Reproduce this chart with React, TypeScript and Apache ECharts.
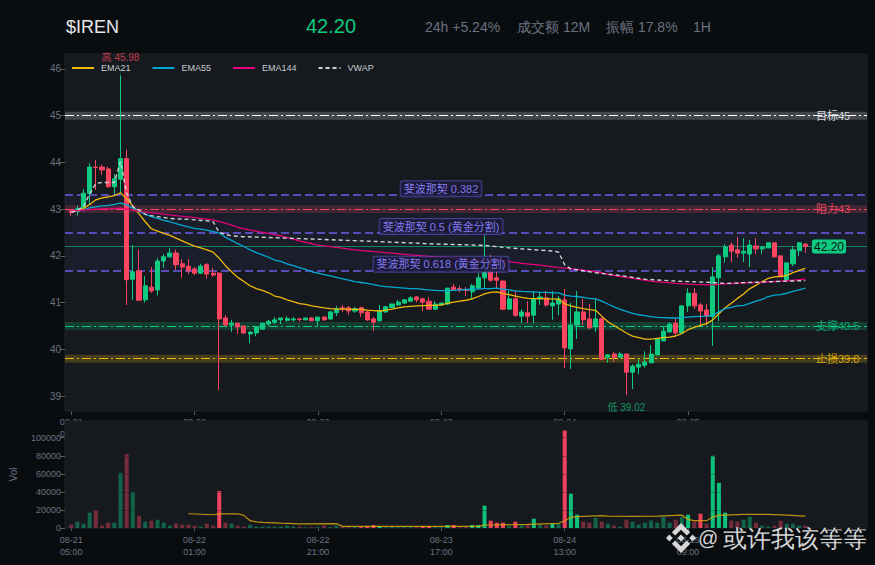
import React, { useEffect, useRef } from "react";
import * as echarts from "echarts";

const FONT = '"Liberation Sans", "Noto Sans CJK SC", sans-serif';
const GREEN = "#0ecb81";
const RED = "#fb4560";
const AMBER = "#f0b90b";
const FIB = "#6f5be8";
const AXIS_TEXT = "#6b7280";

const tickLabels = ["08-21\n05:00", "08-22\n01:00", "08-22\n21:00", "08-23\n17:00", "08-24\n13:00", "08-25\n09:00"];

const opens = [42.97,42.95,43.02,43.34,43.90,43.90,43.86,43.48,43.64,44.08,41.50,41.68,41.06,41.33,41.27,41.89,41.98,42.06,41.83,41.78,41.72,41.63,41.81,41.63,41.63,40.67,40.52,40.56,40.50,40.33,40.35,40.43,40.54,40.58,40.63,40.62,40.63,40.65,40.63,40.67,40.61,40.69,40.65,40.78,40.89,40.89,40.82,40.89,40.80,40.65,40.61,40.80,40.89,40.95,40.99,41.03,41.12,41.08,41.03,40.86,40.95,40.97,41.33,41.30,41.28,41.23,41.31,41.53,41.65,41.53,41.46,40.86,41.08,40.71,40.78,40.73,41.08,41.10,40.93,40.97,41.06,40.01,40.52,40.80,40.65,40.48,40.65,39.83,39.90,39.83,39.90,39.51,39.62,39.66,39.71,39.88,40.18,40.37,40.56,40.35,40.93,41.20,40.95,40.84,40.70,41.53,41.98,42.23,42.13,42.06,42.04,42.21,42.15,42.17,42.28,42.00,41.48,41.83,42.11,42.25];
const closes = [42.93,43.01,43.34,43.90,43.89,43.84,43.48,43.65,44.08,41.49,41.66,41.05,41.36,41.25,41.89,41.98,42.06,41.81,41.76,41.68,41.63,41.78,41.61,41.59,40.65,40.52,40.56,40.48,40.35,40.37,40.48,40.56,40.60,40.63,40.67,40.66,40.65,40.64,40.67,40.61,40.69,40.63,40.80,40.87,40.86,40.82,40.87,40.78,40.63,40.58,40.82,40.91,40.97,41.01,41.06,41.10,41.06,41.01,40.86,40.97,40.99,41.31,41.28,41.27,41.26,41.36,41.53,41.64,41.48,41.48,40.86,41.08,40.73,40.80,40.71,41.08,41.12,40.95,40.99,41.08,40.03,40.52,40.80,40.63,40.46,40.65,39.79,39.88,39.83,39.90,39.51,39.64,39.68,39.73,39.90,40.22,40.39,40.54,40.35,40.93,41.20,40.93,40.82,40.71,41.55,42.00,42.19,42.10,42.06,42.10,42.23,42.15,42.19,42.28,41.98,41.55,41.85,42.13,42.28,42.20];
const lows = [42.86,42.86,42.98,43.09,43.41,43.73,43.46,43.32,43.34,40.95,41.06,41.04,41.00,41.21,41.15,41.74,41.96,41.70,41.53,41.61,41.59,41.61,41.51,41.55,39.13,40.50,40.37,40.33,40.33,40.13,40.28,40.43,40.50,40.54,40.54,40.59,40.59,40.59,40.63,40.61,40.48,40.61,40.63,40.71,40.80,40.74,40.78,40.69,40.61,40.39,40.59,40.78,40.89,40.93,40.97,41.03,41.01,40.82,40.84,40.84,40.93,40.95,41.25,41.22,41.14,41.07,41.29,41.31,41.44,41.31,40.84,40.84,40.69,40.56,40.56,40.56,40.95,40.91,40.63,40.73,39.60,39.58,40.22,40.52,40.43,40.37,39.77,39.71,39.73,39.81,39.02,39.15,39.47,39.60,39.71,39.88,40.18,40.37,40.28,40.33,40.80,40.86,40.50,40.52,40.07,40.60,41.85,41.87,41.96,41.87,41.76,42.04,42.04,42.17,41.96,41.55,41.48,41.78,42.00,42.06];
const highs = [42.98,43.07,43.43,43.98,44.05,43.95,43.91,43.75,45.98,44.27,42.23,42.13,41.57,41.76,41.95,42.04,42.17,42.13,41.93,41.93,41.76,41.83,41.85,41.74,41.65,40.73,40.63,40.56,40.50,40.39,40.48,40.56,40.63,40.69,40.67,40.71,40.69,40.67,40.67,40.69,40.69,40.71,40.82,40.93,40.95,40.93,40.91,40.91,40.82,40.69,40.95,40.93,40.97,41.06,41.06,41.14,41.14,41.10,41.12,41.03,41.00,41.31,41.40,41.36,41.33,41.40,41.63,42.44,42.02,41.68,41.48,41.25,41.25,40.86,41.03,41.23,41.23,41.25,41.25,41.14,41.29,41.00,41.25,41.08,40.97,41.10,40.69,39.90,39.94,39.94,39.90,39.68,39.79,39.96,40.09,40.24,40.48,40.58,40.65,40.93,41.31,41.31,40.99,40.97,41.76,42.04,42.25,42.28,42.40,42.38,42.34,42.38,42.21,42.28,42.28,42.00,41.85,42.21,42.30,42.28];
const volumes = [3700,7000,4800,17000,20000,2600,5900,5900,61000,82000,40000,13600,7000,8100,9200,5900,2600,4800,3700,3700,2600,1500,4800,2600,41000,5900,4800,2600,1500,3700,1500,1500,1500,1500,1500,2600,1500,1500,700,700,800,2600,1000,2600,1000,1000,1000,1000,2200,3300,2200,1000,1000,1000,1000,1000,1000,2200,2200,1000,1000,3300,3300,1000,1000,3300,3300,24700,8100,5900,5900,2600,7000,3700,3700,10300,3700,2600,4800,4800,108000,38000,14700,7000,5900,11400,7000,4800,2600,1500,9200,7000,3700,5900,8100,5900,12500,5900,9200,12500,14700,7000,15800,4800,80000,50000,17000,8100,7000,9200,12500,5900,2600,1500,2600,8100,4800,4800,2600,2600];
const brightVolumes = [25,48,49,50,51,58,59,62,63,66,67,68,69,70,71,73,76,79,81,82,83,101,103,105,106,107];

const volumeMA = [[20,15800],[24,14700],[25,15600],[28,15800],[29,14000],[30,8100],[31,6800],[32,6300],[35,5400],[38,4600],[44,4800],[45,1800],[67,1800],[68,3300],[70,3400],[75,4000],[80,5200],[81,8000],[82,11800],[83,12500],[87,13600],[88,13200],[92,12900],[96,13200],[100,14350],[101,9200],[102,8100],[104,8100],[105,12100],[106,14000],[110,15100],[114,15100],[117,14300],[120,13200]];

const ema21 = [[1,42.95],[2,42.97],[3,43.02],[4,43.10],[5,43.20],[6,43.24],[7,43.26],[8,43.29],[9,43.35],[10,43.22],[11,43.07],[12,42.90],[13,42.73],[14,42.58],[15,42.53],[16,42.48],[17,42.44],[18,42.38],[19,42.32],[20,42.26],[21,42.21],[22,42.17],[23,42.13],[24,42.08],[25,41.95],[26,41.79],[27,41.66],[28,41.54],[29,41.45],[30,41.36],[31,41.30],[32,41.26],[33,41.21],[34,41.14],[35,41.11],[36,41.06],[37,41.02],[38,40.98],[39,40.96],[40,40.93],[41,40.91],[42,40.885],[43,40.87],[44,40.86],[45,40.86],[46,40.86],[47,40.855],[48,40.855],[49,40.84],[50,40.83],[51,40.82],[52,40.84],[53,40.86],[54,40.885],[55,40.91],[56,40.92],[57,40.93],[58,40.935],[59,40.94],[60,40.94],[61,40.95],[62,40.985],[63,41.01],[64,41.03],[65,41.05],[66,41.08],[67,41.13],[68,41.185],[69,41.22],[70,41.23],[71,41.19],[72,41.17],[73,41.14],[74,41.11],[75,41.09],[76,41.085],[77,41.085],[78,41.08],[79,41.08],[80,41.07],[81,40.97],[82,40.93],[83,40.90],[84,40.87],[85,40.85],[86,40.835],[87,40.71],[88,40.59],[89,40.51],[90,40.43],[91,40.35],[92,40.28],[93,40.25],[94,40.22],[95,40.22],[96,40.235],[97,40.25],[98,40.26],[99,40.285],[100,40.34],[101,40.42],[102,40.47],[103,40.51],[104,40.55],[105,40.63],[106,40.76],[107,40.89],[108,40.985],[109,41.09],[110,41.185],[111,41.30],[112,41.37],[113,41.45],[114,41.52],[115,41.55],[116,41.56],[117,41.58],[118,41.64],[119,41.69],[120,41.73]];
const ema55 = [[1,42.96],[2,42.97],[3,42.98],[4,43.03],[5,43.05],[6,43.07],[7,43.08],[8,43.10],[9,43.13],[10,43.09],[11,43.02],[12,42.95],[13,42.89],[14,42.84],[15,42.80],[16,42.76],[17,42.73],[18,42.69],[19,42.65],[20,42.62],[21,42.59],[22,42.57],[23,42.55],[24,42.52],[25,42.49],[26,42.40],[27,42.33],[28,42.26],[29,42.20],[30,42.13],[31,42.07],[32,42.02],[33,41.97],[34,41.91],[35,41.88],[36,41.83],[37,41.79],[38,41.75],[39,41.71],[40,41.66],[41,41.63],[42,41.60],[43,41.57],[44,41.54],[45,41.51],[46,41.48],[47,41.45],[48,41.43],[49,41.41],[50,41.385],[51,41.36],[52,41.34],[53,41.33],[54,41.32],[55,41.31],[56,41.30],[57,41.30],[58,41.285],[59,41.27],[60,41.26],[61,41.255],[62,41.255],[63,41.26],[64,41.27],[65,41.28],[66,41.285],[67,41.29],[68,41.30],[69,41.30],[70,41.31],[71,41.29],[72,41.27],[73,41.25],[74,41.24],[75,41.235],[76,41.23],[77,41.22],[78,41.22],[79,41.21],[80,41.21],[81,41.16],[82,41.14],[83,41.13],[84,41.11],[85,41.09],[86,41.08],[87,41.03],[88,40.97],[89,40.91],[90,40.855],[91,40.81],[92,40.77],[93,40.74],[94,40.72],[95,40.70],[96,40.685],[97,40.68],[98,40.67],[99,40.67],[100,40.68],[101,40.69],[102,40.70],[103,40.705],[104,40.71],[105,40.73],[106,40.80],[107,40.87],[108,40.90],[109,40.93],[110,40.94],[111,40.985],[112,41.03],[113,41.07],[114,41.13],[115,41.16],[116,41.17],[117,41.20],[118,41.24],[119,41.27],[120,41.31]];
const ema144 = [[1,42.96],[5,43.00],[9,43.02],[10,43.00],[11,42.98],[12,42.95],[15,42.91],[18,42.86],[21,42.82],[24,42.77],[26,42.70],[28,42.61],[30,42.55],[33,42.48],[35,42.43],[38,42.32],[41,42.23],[44,42.18],[47,42.13],[50,42.09],[53,42.06],[56,42.02],[59,41.99],[62,41.96],[65,41.93],[68,41.91],[71,41.90],[74,41.84],[77,41.80],[80,41.75],[83,41.71],[86,41.66],[89,41.58],[92,41.52],[95,41.46],[99,41.41],[102,41.39],[105,41.38],[107,41.40],[110,41.42],[113,41.435],[116,41.46],[120,41.50]];
const vwap = [[1,42.93],[2,42.98],[3,43.05],[4,43.33],[5,43.55],[6,43.57],[8,43.57],[9,44.02],[10,43.34],[11,43.05],[12,42.98],[13,42.89],[14,42.86],[15,42.84],[16,42.82],[17,42.80],[20,42.78],[21,42.77],[23,42.75],[24,42.73],[25,42.50],[26,42.46],[27,42.43],[29,42.41],[34,42.39],[40,42.36],[50,42.31],[60,42.255],[68,42.225],[72,42.17],[76,42.13],[79,42.105],[80,42.08],[81,41.81],[82,41.72],[84,41.68],[86,41.64],[90,41.58],[94,41.50],[99,41.46],[105,41.43],[107,41.41],[112,41.435],[116,41.455],[120,41.47]];

const levelValues = { target: 45, resistance: 43, support: 40.5, stop: 39.8, last: 42.2 };
const fibValues = { f382: 43.31, f5: 42.5, f618: 41.69 };
const yTicks = [39, 40, 41, 42, 43, 44, 45, 46];
const volTicks = [0, 20000, 40000, 60000, 80000, 100000];

const LOGO = "M38.73 53.2l24.59-24.58 24.6 24.6 14.3-14.31L63.32 0 24.42 38.9zM0 63.31l14.3-14.31 14.31 14.31-14.31 14.3zM38.73 73.41l24.59 24.59 24.6-24.6 14.31 14.29-38.9 38.91-38.91-38.88zM98 63.31l14.3-14.31 14.31 14.3-14.31 14.32zM77.83 63.3L63.32 48.78 52.59 59.51l-1.24 1.23-2.54 2.54 14.51 14.5 14.51-14.47z";
echarts.graphic.registerShape("logo", echarts.graphic.extendPath(LOGO, {}));

const categories = Array.from({ length: 131 }, (_, i) =>
  i >= 1 && (i - 1) % 20 === 0 && tickLabels[(i - 1) / 20] ? tickLabels[(i - 1) / 20] : String(i)
);
const isTick = (i: number) => i >= 1 && (i - 1) % 20 === 0 && (i - 1) / 20 < tickLabels.length;

function headerText(x: number, y: number, text: string, fontSize: number, fill: string, font = FONT) {
  return { type: "text", x, y, z: 50, style: { text, fontSize, fill, font: `${fontSize}px ${font}`, textVerticalAlign: "middle", verticalAlign: "middle" } };
}

function App() {
  const ref = useRef<HTMLDivElement>(null);
  useEffect(() => {
    document.body.style.margin = "0";
    document.body.style.background = "#0a0d10";
    const chart = echarts.init(ref.current!, undefined, { renderer: "svg" });

    const candleData: any[] = ["-"].concat(
      opens.map((o, k) => [o, closes[k], lows[k], highs[k]]) as any
    );
    const volData: any[] = ["-"].concat(
      volumes.map((v, k) => {
        const up = closes[k] >= opens[k];
        return {
          value: v,
          itemStyle: { color: up ? GREEN : RED, opacity: brightVolumes.includes(k + 1) ? 0.95 : 0.42 },
        };
      }) as any
    );

    const lineLevel = (v: number, color: string, type: any, width = 1) => ({
      yAxis: v,
      lineStyle: { color, type, width },
      label: { show: false },
    });
    const band = (v: number, color: string) => [{ yAxis: v - 0.085, itemStyle: { color } }, { yAxis: v + 0.085 }];
    const DD = [9, 3, 2, 3];
    const endLabel = (v: number, text: string, color: string) => ({
      yAxis: v,
      label: { show: true, opacity: 1, formatter: text, position: "end", offset: [-56, 0], color, fontSize: 11, fontFamily: FONT },
    });
    const fibLabel = (v: number, text: string) => ({
      yAxis: v,
      label: {
        show: true, opacity: 1, formatter: text, position: "middle", offset: [-25, 6.5], color: "#8178ee", fontSize: 11, fontFamily: FONT,
        backgroundColor: "rgba(28,26,56,0.82)", borderColor: "rgba(111,91,232,0.55)", borderWidth: 1, borderRadius: 2, padding: [2, 3],
      },
    });

    const line = (name: string, data: number[][], color: string, width: number, extra: any = {}) => ({
      name, type: "line", data, symbol: "none", xAxisIndex: 0, yAxisIndex: 0, z: 4, silent: true,
      lineStyle: { color, width, ...extra }, itemStyle: { color },
    });

    chart.setOption({
      animation: false,
      backgroundColor: "#0a0d10",
      textStyle: { fontFamily: FONT },
      legend: {
        left: 68, top: 60.5, z: 8, padding: [3, 3], itemWidth: 22, itemHeight: 10, itemGap: 21,
        backgroundColor: "rgba(22,26,30,0.8)",
        itemStyle: { color: "rgba(0,0,0,0)", borderColor: "rgba(0,0,0,0)", borderWidth: 0 },
        textStyle: { color: "#c8ccd3", fontSize: 9, fontFamily: FONT, padding: [0, 0, 0, 2] },
        data: ["EMA21", "EMA55", "EMA144", "VWAP"],
      },
      grid: [
        { left: 65, right: 8, top: 54, height: 357, show: true, backgroundColor: "#161a1f", borderColor: "#1f2329", borderWidth: 1 },
        { left: 65, right: 8, top: 421, height: 107, show: true, backgroundColor: "#161a1f", borderColor: "#1f2329", borderWidth: 1 },
      ],
      xAxis: [
        {
          type: "category", gridIndex: 0, data: categories, boundaryGap: false, z: -1,
          axisLine: { show: false },
          axisTick: { show: true, interval: (i: number) => isTick(i), length: 4, lineStyle: { color: "#555b64" } },
          splitLine: { show: true, interval: (i: number) => isTick(i), lineStyle: { color: "rgba(255,255,255,0.018)" } },
          axisLabel: { interval: (i: number) => isTick(i), color: AXIS_TEXT, fontSize: 9, margin: 5, lineHeight: 12, hideOverlap: false },
        },
        {
          type: "category", gridIndex: 1, data: categories, boundaryGap: false,
          axisLine: { show: false },
          axisTick: { show: true, interval: (i: number) => isTick(i), length: 3, lineStyle: { color: "#555b64" } },
          splitLine: { show: false },
          axisLabel: { interval: (i: number) => isTick(i), color: AXIS_TEXT, fontSize: 9, margin: 6, lineHeight: 12, hideOverlap: false },
        },
      ],
      yAxis: [
        {
          type: "value", gridIndex: 0, min: 38.68, max: 46.32, scale: true,
          axisLine: { show: false },
          axisTick: { show: true, length: 5, customValues: yTicks, lineStyle: { color: "#555b64" } },
          splitLine: { show: true, lineStyle: { color: "rgba(255,255,255,0.018)" } },
          axisLabel: { customValues: yTicks, color: AXIS_TEXT, fontSize: 10, margin: 4 },
        },
        {
          type: "value", gridIndex: 1, min: 0, max: 118500, z: 3,
          name: "Vol", nameLocation: "middle", nameRotate: 90, nameGap: 47,
          nameTextStyle: { color: AXIS_TEXT, fontSize: 10 },
          axisLine: { show: false },
          axisTick: { show: true, length: 5, customValues: volTicks, lineStyle: { color: "#555b64" } },
          splitLine: { show: true, lineStyle: { color: "rgba(22,26,31,0.35)" } },
          axisLabel: { customValues: volTicks, color: AXIS_TEXT, fontSize: 9, margin: 4, formatter: (v: number) => String(v) },
        },
      ],
      series: [
        {
          name: "levels", type: "line", data: [], xAxisIndex: 0, yAxisIndex: 0, z: 1, silent: true,
          markArea: {
            silent: true, z: 1,
            data: [
              [{ yAxis: fibValues.f618, itemStyle: { color: "rgba(99,102,241,0.055)" } }, { yAxis: fibValues.f382 }],
              band(levelValues.target, "rgba(255,255,255,0.2)"),
              band(levelValues.resistance, "rgba(246,70,93,0.2)"),
              band(levelValues.support, "rgba(14,203,129,0.2)"),
              band(levelValues.stop, "rgba(240,185,11,0.22)"),
            ],
          },
          markLine: {
            silent: true, z: 1, symbol: "none", animation: false, precision: 4,
            data: [
              lineLevel(levelValues.target, "#ffffff", DD),
              lineLevel(levelValues.resistance, RED, DD),
              lineLevel(levelValues.support, GREEN, DD),
              lineLevel(levelValues.stop, AMBER, DD),
              lineLevel(levelValues.last, "rgba(14,203,129,0.6)", "solid"),
              lineLevel(fibValues.f382, FIB, [8, 4], 1.5),
              lineLevel(fibValues.f5, FIB, [8, 4], 1.5),
              lineLevel(fibValues.f618, FIB, [8, 4], 1.5),
            ],
          },
        },
        {
          name: "IREN", type: "candlestick", data: candleData, xAxisIndex: 0, yAxisIndex: 0, z: 3, barWidth: 4.6, silent: true,
          itemStyle: { color: GREEN, color0: RED, borderColor: GREEN, borderColor0: RED, borderWidth: 1 },
          markPoint: {
            silent: true, symbol: "circle", symbolSize: 0, z: 9,
            data: [
              { coord: [9, 45.98], label: { show: true, formatter: "高 45.98", position: "top", distance: 7.5, color: "rgba(246,70,93,0.75)", fontSize: 10, fontFamily: FONT } },
              { coord: [91, 39.02], label: { show: true, formatter: "低 39.02", position: "bottom", distance: 7, color: "rgba(14,203,129,0.7)", fontSize: 10, fontFamily: FONT } },
            ],
          },
        },
        line("EMA21", ema21, AMBER, 1.3),
        line("EMA55", ema55, "#00a9d4", 1.3),
        line("EMA144", ema144, "#e6007a", 1.3),
        line("VWAP", vwap, "#cfd3d8", 1.4, { type: [4, 3] }),
        {
          name: "levelLabels", type: "line", data: [], xAxisIndex: 0, yAxisIndex: 0, z: 6, silent: true,
          markLine: {
            silent: true, z: 6, symbol: "none", animation: false, precision: 4,
            lineStyle: { color: "rgba(0,0,0,0)", width: 0 },
            data: [
              endLabel(levelValues.target, "目标45", "#d5d8dc"),
              endLabel(levelValues.resistance, "阻力43", "#e0445a"),
              endLabel(levelValues.support, "支撑40.5", "#0ea871"),
              endLabel(levelValues.stop, "止损39.8", "#d4a30d"),
              {
                yAxis: levelValues.last,
                label: { show: true, opacity: 1, formatter: "42.20", position: "end", offset: [-60, 0], color: "#0a0d10", fontSize: 12, fontFamily: FONT, backgroundColor: GREEN, borderRadius: 2, padding: [1, 2] },
              },
              fibLabel(fibValues.f382, "斐波那契 0.382"),
              fibLabel(fibValues.f5, "斐波那契 0.5 (黄金分割)"),
              fibLabel(fibValues.f618, "斐波那契 0.618 (黄金分割)"),
            ],
          },
        },
        { name: "Vol", type: "bar", data: volData, xAxisIndex: 1, yAxisIndex: 1, barWidth: 4, z: 2, silent: true },
        {
          name: "VolMA", type: "line", data: volumeMA, xAxisIndex: 1, yAxisIndex: 1, symbol: "none", z: 4, silent: true,
          lineStyle: { color: "#d9a60c", width: 1.2, opacity: 0.85 },
        },
      ],
      graphic: [
        headerText(66, 27, "$IREN", 18, "#e5e7eb"),
        headerText(306, 26, "42.20", 20, GREEN),
        headerText(425, 27, "24h +5.24%", 14, AXIS_TEXT),
        headerText(517, 27, "成交额 12M", 14, AXIS_TEXT),
        headerText(606, 27, "振幅 17.8%", 14, AXIS_TEXT),
        headerText(693, 27, "1H", 14, AXIS_TEXT),
        { type: "logo", x: 666, y: 523, scaleX: 0.237, scaleY: 0.237, z: 60, style: { fill: "#d6d6d6" } },
        headerText(698, 538, "@", 20, "#d6d6d6"),
        headerText(723, 538, "或许我该等等", 24, "#d6d6d6"),
      ],
    });
    return () => chart.dispose();
  }, []);
  return <div ref={ref} style={{ width: 875, height: 565 }} />;
}

export default App;
